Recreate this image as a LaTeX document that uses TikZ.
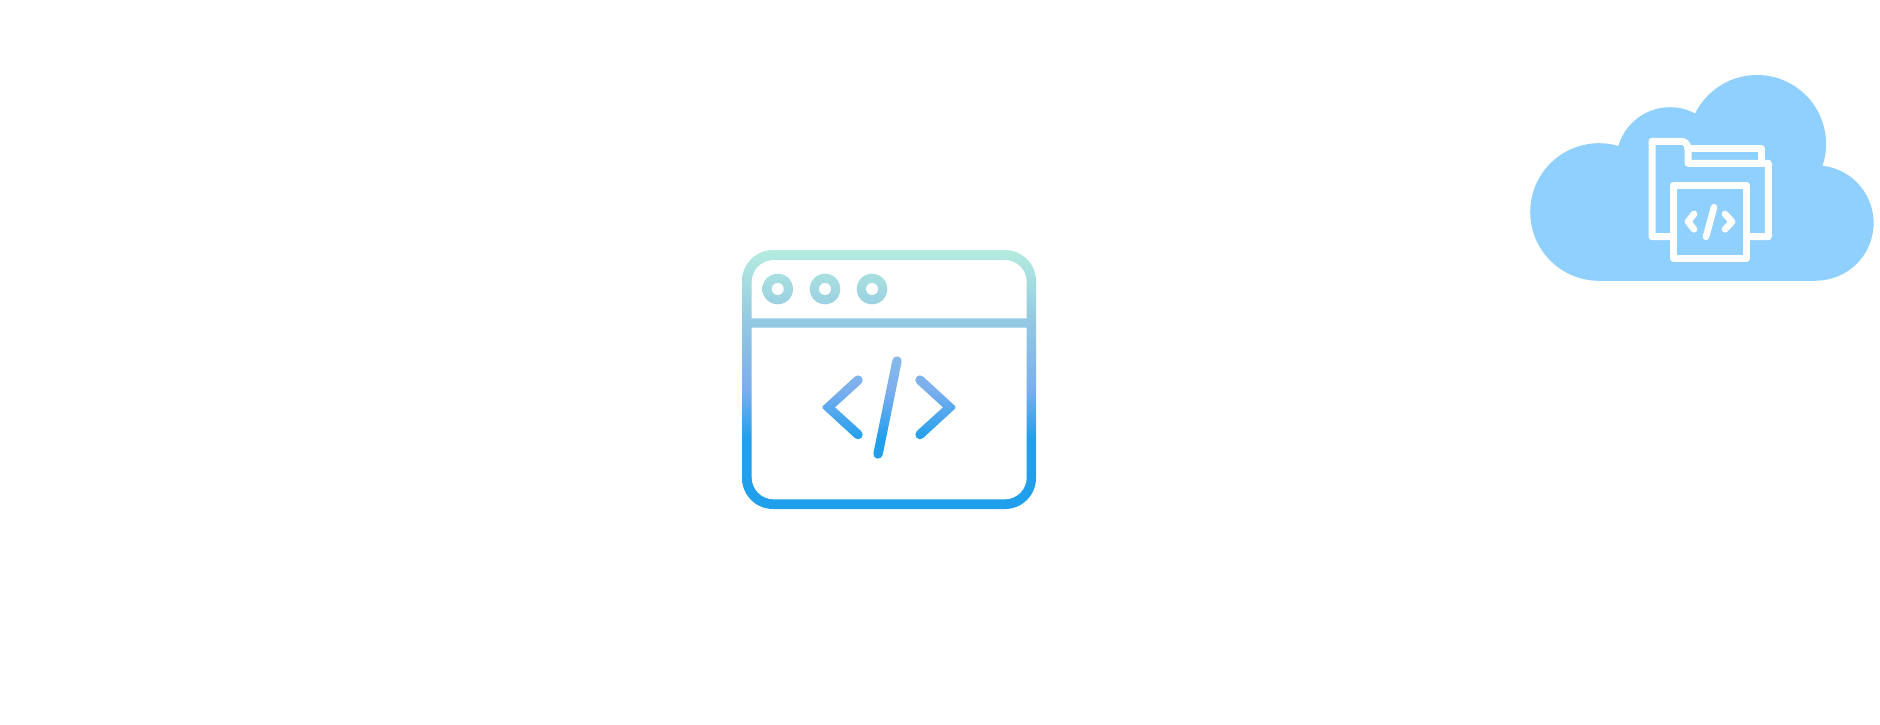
\documentclass[tikz,border=0pt]{standalone}
\usepackage{tikz}
\definecolor{cloudblue}{HTML}{90D0FF}
\definecolor{gradlow}{HTML}{1F9FEC}
\definecolor{gradmid}{HTML}{7BAEEE}
\definecolor{gradbar}{HTML}{92C8E2}
\definecolor{gradtop}{HTML}{B4EBDF}
\pgfdeclareverticalshading{windowgrad}{100bp}{color(0bp)=(gradlow); color(25bp)=(gradlow); color(38.3bp)=(gradlow); color(48bp)=(gradmid); color(61bp)=(gradbar); color(75bp)=(gradtop); color(100bp)=(gradtop)}
\newcommand{\windowshade}{\shade[shading=windowgrad] (742,250) rectangle (1036,509);}
\newcommand{\cloudpart}[3]{\fill[cloudblue] ( #1 , #2 ) circle ( #3 );}
\newcommand{\dotring}[1]{ ( #1 , 289 ) circle ( 15.3 ) }
\newcommand{\dothole}[1]{\fill[white] ( #1 , 289 ) circle ( 6 );}
\tikzset{iconline/.style={draw=white, line width=2pt, line join=round, line cap=round},
    codeline/.style={iconline, line width=1.9pt}}

\begin{document}
\begin{tikzpicture}[x=0.01cm, y=-0.01cm]
    \useasboundingbox (0,0) rectangle (1880,724);
    % window frame
    \shade[shading=windowgrad, rounded corners=0.31cm] (742,250) rectangle (1036,509);
    % top bar
    \fill[white] (751.7,318.3) [rounded corners=0.22cm] -- (751.7,260) -- (1026.7,260) [sharp corners] -- (1026.7,318.3) -- cycle;
    % main panel
    \fill[white] (751.7,327.7) [rounded corners=0.22cm] -- (751.7,499.3) -- (1026.7,499.3) [sharp corners] -- (1026.7,327.7) -- cycle;
    % dots and code sign
    \begin{scope}
        \clip \dotring{777.7} \dotring{825} \dotring{872}
            (835,407.3) [rounded corners=0.047cm] -- (864.6,434.2) -- (858.4,441.2) [rounded corners=0.015cm] -- (821.5,407.3) [rounded corners=0.047cm] -- (858.4,373.4) -- (864.6,380.4) [sharp corners] -- cycle
            (943,407.3) [rounded corners=0.047cm] -- (913.4,380.4) -- (919.6,373.4) [rounded corners=0.015cm] -- (956.5,407.3) [rounded corners=0.047cm] -- (919.6,441.2) -- (913.4,434.2) [sharp corners] -- cycle
            [rounded corners=0.047cm] (893.3,355.5) -- (902.5,357.3) -- (881.7,459.5) -- (872.5,457.7) -- cycle;
        \windowshade
    \end{scope}
    \dothole{777.7}
    \dothole{825}
    \dothole{872}
    % cloud
    \cloudpart{1599}{212}{68.8}
    \cloudpart{1670}{161}{53.8}
    \cloudpart{1757}{144}{69}
    \cloudpart{1816}{223}{57.6}
    \fill[cloudblue] (1599,150) rectangle (1816,280.7);
    % folder
    \draw[iconline] (1652,236.7) -- (1652,141.3) -- (1681,141.3) .. controls (1685,141.3) and (1688,144.5) .. (1688,149) -- (1688,163.3) -- (1768.3,163.3) -- (1768.3,236.7) -- cycle;
    \draw[iconline] (1688,148.8) -- (1761.3,148.8) -- (1761.3,163.3);
    % sheet
    \draw[iconline, fill=cloudblue] (1673.5,185.5) rectangle (1746.3,258.2);
    \draw[codeline] (1694,214) -- (1688,221.7) -- (1694,229.3);
    \draw[codeline] (1725,214) -- (1732,221.7) -- (1725,229.3);
    \draw[codeline] (1714,207.3) -- (1706,236.7);
\end{tikzpicture}
\end{document}
